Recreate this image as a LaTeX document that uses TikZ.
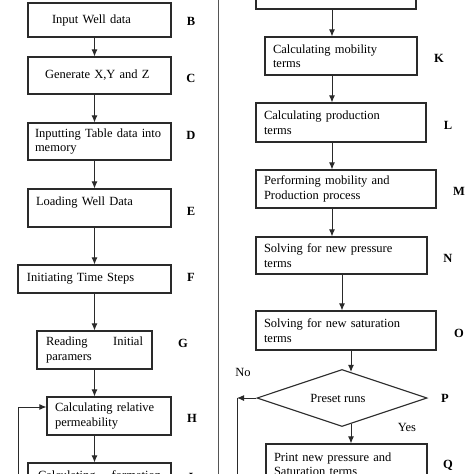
\documentclass[tikz,border=0pt]{standalone}
\usepackage{fontspec}
\setmainfont{Liberation Serif}
\usetikzlibrary{arrows.meta,shapes.geometric}
\definecolor{ln}{HTML}{2A2A2A}
\definecolor{sep}{HTML}{555555}
\begin{document}
\begin{tikzpicture}[x=1pt,y=-1pt,
  box/.style={draw=ln, line width=1.1pt, rectangle, inner ysep=0pt, align=left,
    font=\fontsize{12.5}{14.5}\selectfont, text=black},
  dia/.style={draw=ln, line width=1.1pt, diamond, inner sep=0pt,
    font=\fontsize{12.5}{14.5}\selectfont, text=black},
  arr/.style={draw=ln, line width=1pt, -{Latex[length=7pt,width=6pt]}},
  plainline/.style={draw=ln, line width=1pt},
  lbl/.style={font=\fontsize{12.5}{14.5}\selectfont\bfseries, inner sep=0pt},
  txt/.style={font=\fontsize{12.5}{14.5}\selectfont, inner sep=0pt}]
\useasboundingbox (0,0) rectangle (474,474);
\fill[white] (0,0) rectangle (474,474);
\clip (0,0) rectangle (474,474);

% separator
\coordinate (s1) at (218,-5);
\coordinate (s2) at (218,480);
\draw[sep, line width=1pt] (s1) -- (s2);

% left column
\node[box, text width=95pt, inner xsep=24pt, minimum height=34pt] (B) at (99.5,20) {Input Well data};
\node[box, text width=109pt, inner xsep=17pt, minimum height=37pt] (C) at (99.5,75.5) {Generate X,Y and Z};
\node[box, text width=129pt, inner xsep=7pt, minimum height=37pt] (D) at (99.5,141.5) {Inputting Table data into\\memory};
\node[box, text width=127pt, inner xsep=8pt, minimum height=38pt] (E) at (99.5,208) {Loading Well Data\\\mbox{}};
\node[box, text width=135pt, inner xsep=9pt, minimum height=28pt] (F) at (94.5,279) {Initiating Time Steps};
\node[box, text width=97pt, inner xsep=9pt, minimum height=38pt] (G) at (94.5,350) {Reading\hfill Initial\\paramers};
\node[box, text width=108pt, inner xsep=8pt, minimum height=38pt] (H) at (109,416) {Calculating relative\\permeability};
\node[box, text width=123pt, inner xsep=10pt, minimum height=38pt] (I) at (99.5,482) {Calculating\hfill formation\\\mbox{}};

\node[lbl] (lB) at (191,21) {B};
\node[lbl] (lC) at (191,78) {C};
\node[lbl] (lD) at (191,135) {D};
\node[lbl] (lE) at (191,211) {E};
\node[lbl] (lF) at (191,277) {F};
\node[lbl] (lG) at (183,343) {G};
\node[lbl] (lH) at (192,418) {H};
\node[lbl] (lI) at (191,477) {I};

\draw[arr] (B.south -| G.center) -- (C.north -| G.center);
\draw[arr] (C.south -| G.center) -- (D.north -| G.center);
\draw[arr] (D.south -| G.center) -- (E.north -| G.center);
\draw[arr] (E.south -| G.center) -- (F.north -| G.center);
\draw[arr] (F.south -| G.center) -- (G.north);
\draw[arr] (G.south) -- (H.north -| G.center);
\draw[arr] (H.south -| G.center) -- (I.north -| G.center);

\coordinate (lb) at (18,480);
\draw[arr] (lb) |- ([yshift=9pt]H.west);

% right column
\coordinate (ax1) at (332,0);
\coordinate (ax2) at (342,0);
\coordinate (ax3) at (351,0);

\node[box, text width=144pt, inner xsep=8pt, minimum height=36pt] (J) at (336,-9) {\mbox{}\\terms};
\node[box, text width=136pt, inner xsep=8pt, minimum height=38pt] (K) at (341,56) {Calculating mobility\\terms};
\node[box, text width=154pt, inner xsep=8pt, minimum height=39pt] (L) at (341,122.5) {Calculating production\\terms};
\node[box, text width=164pt, inner xsep=8pt, minimum height=38pt] (M) at (346,189) {Performing mobility and\\Production process};
\node[box, text width=155pt, inner xsep=8pt, minimum height=37pt] (N) at (341.5,255.5) {Solving for new pressure\\terms};
\node[box, text width=164pt, inner xsep=8pt, minimum height=39pt] (O) at (346,330.5) {Solving for new saturation\\terms};
\node[dia, minimum width=170pt, minimum height=57pt] (P) at (342,398) {\hspace*{-8pt}Preset runs};
\node[box, text width=145pt, inner xsep=8pt, minimum height=40pt] (Q) at (346.5,464) {Print new pressure and\\Saturation terms};

\node[lbl] (lK) at (439,58) {K};
\node[lbl] (lL) at (448,125) {L};
\node[lbl] (lM) at (459,191) {M};
\node[lbl] (lN) at (448,258) {N};
\node[lbl] (lO) at (459,333) {O};
\node[lbl] (lP) at (445,398) {P};
\node[lbl] (lQ) at (448,465) {Q};
\node[txt] (no) at (243,372) {No};
\node[txt] (yes) at (407,427) {Yes};

\draw[arr] (J.south -| ax1) -- (K.north -| ax1);
\draw[arr] (K.south -| ax1) -- (L.north -| ax1);
\draw[arr] (L.south -| ax1) -- (M.north -| ax1);
\draw[arr] (M.south -| ax1) -- (N.north -| ax1);
\draw[arr] (N.south -| ax2) -- (O.north -| ax2);
\draw[arr] (O.south -| ax3) -- ([yshift=-3pt]P.north -| ax3);
\draw[arr] ([yshift=3pt]P.south -| ax3) -- (Q.north -| ax3);

\coordinate (rc) at (237,398);
\coordinate (rb) at (237,480);
\draw[arr] (P.west) -- (rc);
\draw[plainline] (rc) -- (rb);
\end{tikzpicture}
\end{document}
